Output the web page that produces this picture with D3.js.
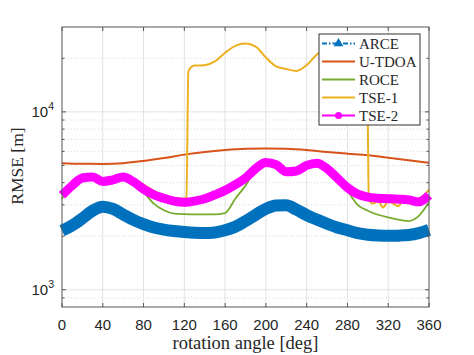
<!DOCTYPE html>
<html><head><meta charset="utf-8">
<script src="https://cdn.jsdelivr.net/npm/d3@7"></script>
<style>body{margin:0;background:#fff}svg{display:block}</style>
</head><body>
<svg id="c" width="474" height="355"></svg>
<script>
const xTicks = [0,40,80,120,160,200,240,280,320,360];
const angles10 = [0,10,20,30,40,50,60,70,80,90,100,110,120,130,140,150,160,170,180,190,200,210,220,230,240,250,260,270,280,290,300,310,320,330,340,350,360];
const arce = [2150,2300,2520,2780,2930,2850,2650,2470,2340,2240,2180,2140,2110,2090,2085,2100,2160,2260,2430,2640,2850,2980,2990,2820,2630,2480,2350,2240,2160,2080,2040,2020,2010,2015,2030,2080,2170];
const angles20 = [0,20,40,60,80,100,120,140,160,180,200,220,240,260,280,300,320,340,360];
const utdoa = [5150,5110,5100,5150,5300,5500,5750,5950,6100,6200,6230,6200,6100,5950,5820,5700,5530,5350,5170];
const roce = [3250,3900,4450,4450,4150,4200,4350,4050,3550,3050,2800,2680,2660,2650,2650,2650,2700,3250,3850,4750,5250,5080,4620,4680,5030,5180,4820,4200,3600,3000,2780,2640,2550,2480,2430,2600,3100];
const anglesTse1 = [0,10,20,30,40,50,60,70,80,90,100,110,120,122,124,130,140,150,160,170,180,190,200,210,220,230,240,250,260,270,280,290,299,301,305,310,315,320,325,330,335,340,345,350,355,360];
const tse1 = [3500,3950,4400,4450,4150,4250,4400,4200,3900,3600,3400,3280,3250,3300,17000,18200,18300,19200,21500,23500,24200,23300,20200,18000,17400,17000,18300,21000,23000,24000,24500,24500,24000,3200,3050,3150,2900,3150,3050,2950,3200,3100,3150,3250,3400,3650];
const tse2 = [3400,3850,4250,4300,4060,4150,4300,4050,3680,3420,3270,3150,3100,3150,3250,3420,3620,3900,4250,4800,5200,5050,4600,4650,5000,5150,4800,4250,3750,3450,3320,3270,3250,3230,3200,3120,3400];
const legendLabels = ["ARCE","U-TDOA","ROCE","TSE-1","TSE-2"];
const colors = ["#0072BD","#D95319","#77AC30","#EDB120","#FF00FF"];

const SERIF = "'Liberation Serif', 'Times New Roman', serif";
const SANS = "'Liberation Sans', Arial, sans-serif";
const svg = d3.select("#c");
const L=62,R=429,T=27,B=307;
const x = d3.scaleLinear().domain([0,360]).range([L,R]);
const y = d3.scaleLog().domain([800,30000]).range([B,T]);

// grid
const g = svg.append("g");
const minorY = [900,2000,3000,4000,5000,6000,7000,8000,9000,20000];
g.selectAll(".mg").data(minorY).join("line")
  .attr("x1",L).attr("x2",R).attr("y1",d=>y(d)).attr("y2",d=>y(d))
  .attr("stroke","#d0d0d0").attr("stroke-width",0.8).attr("stroke-dasharray","1,2");
g.selectAll(".Mg").data([1000,10000]).join("line")
  .attr("x1",L).attr("x2",R).attr("y1",d=>y(d)).attr("y2",d=>y(d))
  .attr("stroke","#e2e2e2").attr("stroke-width",1);
g.selectAll(".vg").data(xTicks.slice(1,-1)).join("line")
  .attr("x1",d=>x(d)).attr("x2",d=>x(d)).attr("y1",T).attr("y2",B)
  .attr("stroke","#e2e2e2").attr("stroke-width",1);

function lineGen(xs){
  return d3.line().x((d,i)=>x(xs[i])).y(d=>y(d)).curve(d3.curveMonotoneX);
}
// series
svg.append("path").attr("d",lineGen(angles10)(arce)).attr("fill","none")
  .attr("stroke",colors[0]).attr("stroke-width",12);
svg.append("path").attr("d",lineGen(angles20)(utdoa)).attr("fill","none")
  .attr("stroke",colors[1]).attr("stroke-width",2);
svg.append("path").attr("d",lineGen(angles10)(roce)).attr("fill","none")
  .attr("stroke",colors[2]).attr("stroke-width",1.8);
svg.append("path").attr("d",lineGen(anglesTse1)(tse1)).attr("fill","none")
  .attr("stroke",colors[3]).attr("stroke-width",2);
svg.append("path").attr("d",lineGen(angles10)(tse2)).attr("fill","none")
  .attr("stroke",colors[4]).attr("stroke-width",9);

// axes box
const axc="#555";
svg.append("rect").attr("x",L).attr("y",T).attr("width",R-L).attr("height",B-T)
  .attr("fill","none").attr("stroke",axc).attr("stroke-width",1);
// x ticks
xTicks.forEach(t=>{
  svg.append("line").attr("x1",x(t)).attr("x2",x(t)).attr("y1",B).attr("y2",B-4).attr("stroke",axc);
  svg.append("line").attr("x1",x(t)).attr("x2",x(t)).attr("y1",T).attr("y2",T+4).attr("stroke",axc);
  svg.append("text").attr("x",x(t)).attr("y",330).attr("text-anchor","middle")
    .attr("font-family",SANS).attr("font-size",15).attr("fill","#262626").text(t);
});
// y ticks
[1000,10000].forEach(t=>{
  svg.append("line").attr("x1",L).attr("x2",L+4).attr("y1",y(t)).attr("y2",y(t)).attr("stroke",axc);
  svg.append("line").attr("x1",R).attr("x2",R-4).attr("y1",y(t)).attr("y2",y(t)).attr("stroke",axc);
});
minorY.forEach(t=>{
  svg.append("line").attr("x1",L).attr("x2",L+2.5).attr("y1",y(t)).attr("y2",y(t)).attr("stroke",axc);
  svg.append("line").attr("x1",R).attr("x2",R-2.5).attr("y1",y(t)).attr("y2",y(t)).attr("stroke",axc);
});
[[1000,"3"],[10000,"4"]].forEach(([t,e])=>{
  const tx = svg.append("text").attr("x",54).attr("y",y(t)+5).attr("text-anchor","end")
    .attr("font-family",SANS).attr("font-size",15).attr("fill","#262626");
  tx.append("tspan").text("10");
  tx.append("tspan").attr("dy",-7).attr("font-size",10.5).text(e);
});
// axis labels
svg.append("text").attr("x",(L+R)/2).attr("y",349).attr("text-anchor","middle")
  .attr("font-family",SERIF).attr("font-size",18.5).attr("fill","#262626")
  .text("rotation angle [deg]");
svg.append("text").attr("transform","translate(23,166) rotate(-90)").attr("text-anchor","middle")
  .attr("font-family",SERIF).attr("font-size",17.5).attr("fill","#262626")
  .text("RMSE [m]");

// legend
const lg = svg.append("g");
lg.append("rect").attr("x",319).attr("y",34).attr("width",101).attr("height",91)
  .attr("fill","#fff").attr("stroke","#333").attr("stroke-width",1);
legendLabels.forEach((lab,i)=>{
  const ly = 43.5 + i*18;
  const ln = lg.append("line").attr("x1",322).attr("x2",355).attr("y1",ly).attr("y2",ly)
    .attr("stroke",colors[i]).attr("stroke-width",2);
  if(i===0) ln.attr("stroke-dasharray","5,2,1.5,2");
  if(i===0) lg.append("path").attr("d",d3.symbol(d3.symbolTriangle,40)()).attr("transform",`translate(338.5,${ly})`).attr("fill",colors[0]);
  if(i===4) lg.append("circle").attr("cx",338.5).attr("cy",ly).attr("r",3.5).attr("fill",colors[4]);
  lg.append("text").attr("x",359).attr("y",ly+5).attr("font-family",SERIF)
    .attr("font-size",15).attr("fill","#262626").text(lab);
});
</script>
</body></html>
